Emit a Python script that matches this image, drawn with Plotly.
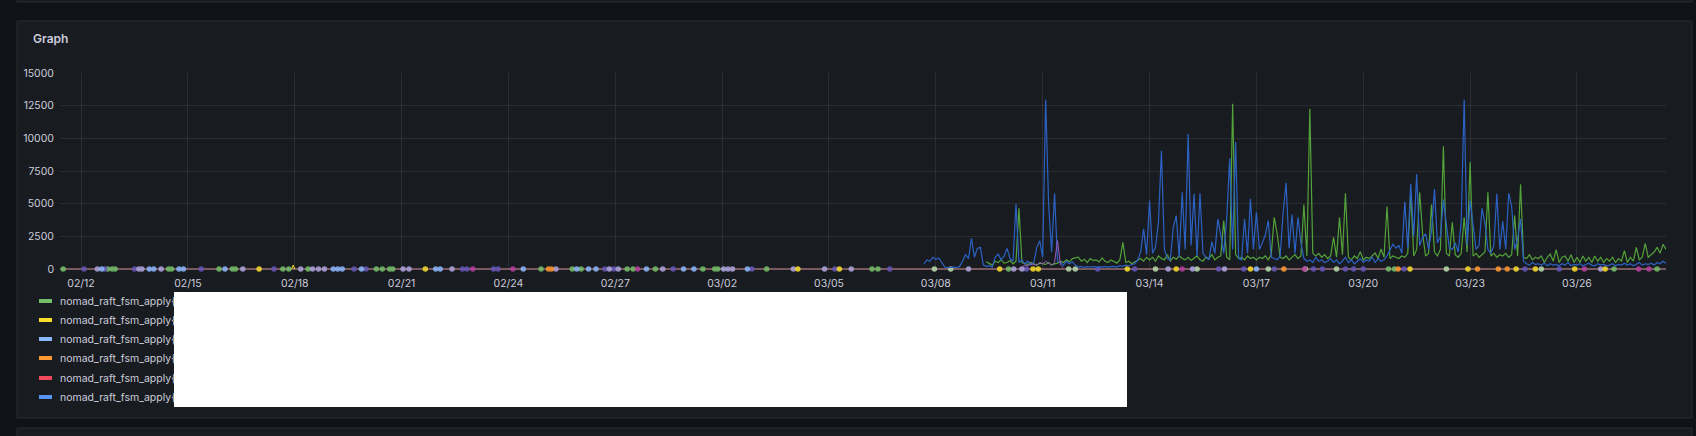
import pandas as pd
import plotly.graph_objects as go

# ---------------- data ----------------
X_START = "2025-02-11 09:50"
X_END = "2025-03-28 12:00"
X_TICK0 = "2025-02-12"
Y_TICKS = [0, 2500, 5000, 7500, 10000, 12500, 15000]

SERIES_NAMES = [
    'nomad_raft_fsm_apply{host="nomad-server-1", type="Register"}',
    'nomad_raft_fsm_apply{host="nomad-server-1", type="Deregister"}',
    'nomad_raft_fsm_apply{host="nomad-server-2", type="Register"}',
    'nomad_raft_fsm_apply{host="nomad-server-2", type="Deregister"}',
    'nomad_raft_fsm_apply{host="nomad-server-3", type="Register"}',
    'nomad_raft_fsm_apply{host="nomad-server-3", type="Deregister"}',
]
SERIES_COLORS = ["#73BF69", "#FADE2A", "#8AB8FF", "#FF9830", "#F2495C", "#5794F2"]

# green series, 2-hour samples from 2025-03-09 10:00
green_start = "2025-03-09 10:00"
green_values = [
    560, 400, 300, 600, 500, 700, 450,                                   # 03/09 10h-22h
    500, 650, 400, 600, 4650, 500, 400, 350, 500, 400, 300, 450,         # 03/10
    400, 350, 500, 300, 400, 450, 600, 500, 700, 550, 800, 870,          # 03/11
    900, 600, 750, 500, 800, 650, 700, 550, 850, 600, 500, 700,          # 03/12
    600, 450, 700, 2040, 500, 600, 400, 550, 700, 800, 600, 900,         # 03/13
    700, 900, 600, 1000, 800, 700, 1100, 600, 900, 750, 1000, 800,       # 03/14
    700, 900, 650, 800, 1000, 700, 600, 900, 800, 1100, 700, 900,        # 03/15
    1000, 3700, 900, 700, 12650, 1100, 800, 900, 700, 1000, 800, 900,    # 03/16
    700, 900, 800, 1000, 700, 1100, 3960, 2700, 900, 800, 1000, 700,     # 03/17
    900, 1100, 800, 1000, 4930, 1000, 12260, 1200, 1000, 1200, 900, 1100,  # 03/18
    800, 1000, 2430, 900, 3960, 1100, 5800, 900, 700, 1000, 800, 1330,   # 03/19
    700, 900, 800, 1000, 1230, 800, 1530, 900, 4780, 800, 1000, 900,     # 03/20
    800, 1000, 900, 1200, 5880, 1000, 1500, 5880, 2700, 1000, 1200, 4930,  # 03/21
    1300, 1000, 1500, 9400, 1200, 1000, 3580, 1100, 900, 1200, 3960, 1300,  # 03/22
    8180, 1000, 1200, 900, 1100, 1300, 5880, 1000, 1200, 900, 1100, 1000,  # 03/23
    1200, 900, 1100, 4090, 1000, 6490, 900, 800, 1100, 700, 900, 800,    # 03/24
    1000, 500, 900, 1150, 600, 1480, 500, 900, 1000, 600, 1100, 500,     # 03/25
    900, 500, 1000, 600, 900, 500, 1000, 600, 900, 500, 800, 600,        # 03/26
    900, 500, 800, 600, 1400, 500, 900, 600, 1660, 700, 900, 1970,       # 03/27
    900, 1100, 1300, 1660, 1200, 1890, 1500,                             # 03/28 0h-12h
]

# blue series, 2-hour samples from 2025-03-07 16:00
blue_start = "2025-03-07 16:00"
blue_values = [
    400, 700, 600, 900,                                                  # 03/07 16h-22h
    750, 850, 500, 150, 100, 120, 150, 100, 200, 600, 1100, 800,         # 03/08
    2350, 900, 1580, 1660, 300, 200, 250, 150, 900, 1150, 700, 1000,     # 03/09
    1580, 800, 600, 4980, 500, 700, 400, 600, 300, 500, 1660, 2170,      # 03/10
    900, 12980, 4950, 1300, 5800, 600, 500, 300, 600, 400, 550, 300,     # 03/11
    150, 200, 120, 180, 150, 200, 130, 170, 150, 200, 150, 180,          # 03/12
    200, 150, 250, 200, 300, 250, 350, 400, 700, 1300, 3070, 1100,       # 03/13
    5240, 1200, 1660, 3580, 9045, 1500, 800, 700, 3190, 4090, 900, 5880,  # 03/14
    1500, 10350, 1800, 5750, 1000, 5800, 1200, 900, 700, 2100, 1200, 3830,  # 03/15
    2600, 1200, 3830, 8480, 1500, 9710, 800, 700, 3830, 1200, 5370, 1500,  # 03/16
    4340, 1500, 2000, 2600, 3700, 900, 800, 700, 1000, 4290, 6590, 1600,  # 03/17
    4160, 1200, 3960, 2000, 800, 600, 700, 500, 900, 600, 700, 500,      # 03/18
    600, 800, 500, 700, 400, 600, 900, 500, 700, 400, 600, 800,          # 03/19
    500, 700, 600, 900, 500, 800, 600, 700, 1000, 1500, 1900, 1600,      # 03/20
    1800, 1200, 5160, 1600, 6520, 2500, 7260, 1800, 2400, 2700, 1500, 2900,  # 03/21
    6130, 2000, 2500, 5310, 3450, 1600, 1500, 2000, 1300, 3580, 12950, 1800,  # 03/22
    5240, 3300, 1500, 1800, 4650, 3500, 1500, 1200, 1800, 5750, 1500, 3650,  # 03/23
    1500, 5800, 4800, 1500, 2300, 3830, 600, 400, 300, 500, 350, 400,    # 03/24
    300, 450, 250, 400, 300, 350, 250, 400, 300, 500, 250, 350,          # 03/25
    300, 400, 250, 350, 450, 300, 250, 400, 300, 350, 250, 300,          # 03/26
    400, 250, 350, 300, 450, 300, 400, 250, 350, 500, 300, 400,          # 03/27
    350, 450, 300, 500, 400, 600, 450,                                   # 03/28 0h-12h
]

# small purple series, 2-hour samples from 2025-03-10 10:00
purple_start = "2025-03-10 10:00"
purple_values = [150, 300, 250, 400, 350, 300, 500, 400, 600, 450, 300, 500, 2170, 300, 100]

# series sitting on the zero line
red_times = ["2025-02-11 09:50", "2025-03-28 12:00"]
red_values = [0, 0]
yellow_times = ["2025-02-17 22:00", "2025-02-17 23:00", "2025-02-18 00:00"]
yellow_values = [0, 300, 0]

# isolated samples (value 0) drawn as points
dots_green = ["2025-02-11 12:00", "2025-02-12 18:00", "2025-02-12 21:00", "2025-02-12 23:00",
              "2025-02-14 11:00", "2025-02-14 13:00", "2025-02-15 21:00", "2025-02-16 06:00",
              "2025-02-16 08:00", "2025-02-17 16:00", "2025-02-17 20:00", "2025-02-18 09:00",
              "2025-02-20 07:00", "2025-02-20 11:00", "2025-02-20 16:00", "2025-02-20 18:00",
              "2025-02-24 22:00", "2025-02-25 19:00", "2025-02-26 01:00", "2025-02-27 08:00",
              "2025-02-27 12:00", "2025-02-28 03:00", "2025-03-01 11:00", "2025-03-01 19:00",
              "2025-03-01 21:00", "2025-03-03 06:00", "2025-03-06 05:00", "2025-03-06 09:00",
              "2025-03-10 01:00", "2025-03-20 17:00", "2025-03-20 21:00", "2025-03-27 01:00",
              "2025-03-28 06:00"]
dots_lightgreen = ["2025-03-07 23:00", "2025-03-08 10:00", "2025-03-11 17:30", "2025-03-11 22:00",
                   "2025-03-14 04:00", "2025-03-15 08:00", "2025-03-17 08:00", "2025-03-18 09:00",
                   "2025-03-19 06:00", "2025-03-22 08:00", "2025-03-25 00:00"]
dots_violet = ["2025-02-12 02:00", "2025-02-12 16:00", "2025-02-13 12:00", "2025-02-15 09:00",
               "2025-02-17 10:00", "2025-02-19 16:00", "2025-02-20 00:00", "2025-02-22 17:00",
               "2025-02-22 20:00", "2025-02-23 14:00", "2025-02-23 17:00", "2025-02-26 17:00",
               "2025-02-26 23:00", "2025-02-28 15:00", "2025-03-02 20:00", "2025-03-05 04:00",
               "2025-03-06 17:00", "2025-03-10 13:00", "2025-03-12 13:00", "2025-03-13 14:00",
               "2025-03-15 22:30", "2025-03-16 15:30", "2025-03-17 12:00", "2025-03-18 14:30",
               "2025-03-18 20:30", "2025-03-19 12:00", "2025-03-19 17:30", "2025-03-20 00:00",
               "2025-03-21 03:30", "2025-03-24 13:00", "2025-03-25 12:00"]
dots_lavender = ["2025-02-12 11:00", "2025-02-13 15:00", "2025-02-13 17:00", "2025-02-14 06:00",
                 "2025-02-16 13:00", "2025-02-18 04:00", "2025-02-18 12:00", "2025-02-18 16:00",
                 "2025-02-18 20:00", "2025-02-21 01:00", "2025-02-21 05:00", "2025-02-22 10:00",
                 "2025-02-25 08:00", "2025-02-26 20:00", "2025-02-27 02:00", "2025-02-28 08:00",
                 "2025-03-02 01:00", "2025-03-02 04:00", "2025-03-02 07:00", "2025-03-04 00:00",
                 "2025-03-04 21:00", "2025-03-05 15:00", "2025-03-08 22:00", "2025-03-10 04:30",
                 "2025-03-10 10:00", "2025-03-14 12:30", "2025-03-15 05:00", "2025-03-16 02:30",
                 "2025-03-26 16:00"]
dots_lightblue = ["2025-02-12 14:00", "2025-02-13 22:00", "2025-02-14 01:00", "2025-02-14 18:00",
                  "2025-02-14 21:00", "2025-02-16 01:00", "2025-02-19 02:00", "2025-02-19 05:00",
                  "2025-02-19 08:00", "2025-02-19 21:00", "2025-02-21 23:00", "2025-02-22 02:00",
                  "2025-02-24 10:00", "2025-02-25 22:00", "2025-02-26 06:00", "2025-02-26 11:00",
                  "2025-02-27 21:00", "2025-02-28 22:00", "2025-03-01 05:00", "2025-03-02 17:00",
                  "2025-03-17 00:00"]
dots_yellow = ["2025-02-17 00:00", "2025-02-21 16:00", "2025-03-04 03:00", "2025-03-05 07:00",
               "2025-03-09 19:00", "2025-03-10 17:30", "2025-03-10 21:00", "2025-03-13 09:00",
               "2025-03-14 18:00", "2025-03-16 20:00", "2025-03-21 07:30", "2025-03-22 22:30",
               "2025-03-24 07:00", "2025-03-24 20:00", "2025-03-25 22:30", "2025-03-26 19:00"]
dots_orange = ["2025-02-25 03:00", "2025-02-25 05:00", "2025-03-17 18:30", "2025-03-20 23:30",
               "2025-03-23 05:00", "2025-03-23 19:00", "2025-03-24 01:00"]
dots_magenta = ["2025-02-23 00:00", "2025-02-24 03:00", "2025-02-27 15:00", "2025-03-14 22:00",
                "2025-03-18 08:30", "2025-03-26 05:00", "2025-03-27 17:30", "2025-03-28 00:30"]

# ---------------- styling ----------------
BG_OUTER = "#111217"
BG_PANEL = "#181b1f"
BORDER = "#2a2c31"
TEXT = "#ccccdc"
GRID = "rgba(204,204,220,0.10)"
FONT = "Inter"
LINE_GREEN = "#54a23a"
LINE_BLUE = "#2c62c4"

W, H = 1696, 436
ML, MR, MT, MB = 60, 30, 73, 166
PW, PH = W - ML - MR, H - MT - MB


def px(x):
    return (x - ML) / PW


def py(y):
    return (H - MB - y) / PH


def grid_times(start, n):
    return pd.date_range(start, periods=n, freq="2h")


fig = go.Figure()

dot_sets = [
    (dots_green, "#73BF69"), (dots_lightgreen, "#B7DBAB"), (dots_violet, "#6656B8"),
    (dots_lavender, "#ADA5E0"), (dots_lightblue, "#8AB8FF"), (dots_yellow, "#FADE2A"),
    (dots_orange, "#FF9830"), (dots_magenta, "#B83FA0"),
]

# baseline series on zero
fig.add_trace(go.Scatter(x=pd.to_datetime(red_times), y=red_values, mode="lines",
                         line=dict(color="#9a6f74", width=1.5),
                         name=SERIES_NAMES[4], showlegend=False, hoverinfo="skip"))

for times, col in dot_sets:
    fig.add_trace(go.Scatter(x=pd.to_datetime(times), y=[0 for _ in times], mode="markers",
                             marker=dict(size=5.5, color=col), opacity=0.85, cliponaxis=False,
                             showlegend=False, hoverinfo="skip"))

fig.add_trace(go.Scatter(x=grid_times(green_start, len(green_values)), y=green_values,
                         mode="lines", line=dict(color=LINE_GREEN, width=1.2),
                         name=SERIES_NAMES[0], showlegend=False))
fig.add_trace(go.Scatter(x=pd.to_datetime(yellow_times), y=yellow_values, mode="lines",
                         line=dict(color=SERIES_COLORS[1], width=1),
                         name=SERIES_NAMES[1], showlegend=False))
fig.add_trace(go.Scatter(x=grid_times(blue_start, len(blue_values)), y=blue_values,
                         mode="lines", line=dict(color=LINE_BLUE, width=1.2),
                         name=SERIES_NAMES[5], showlegend=False))
fig.add_trace(go.Scatter(x=grid_times(purple_start, len(purple_values)), y=purple_values,
                         mode="lines", line=dict(color="#9a5cc0", width=1),
                         showlegend=False))

shapes = []
annotations = []

# panels
shapes.append(dict(type="rect", xref="paper", yref="paper", layer="below",
                   x0=px(17), x1=px(1692), y0=py(418), y1=py(21),
                   fillcolor=BG_PANEL, line=dict(color=BORDER, width=1)))
shapes.append(dict(type="rect", xref="paper", yref="paper", layer="below",
                   x0=px(17), x1=px(1692), y0=py(2), y1=py(-20),
                   fillcolor=BG_PANEL, line=dict(color=BORDER, width=1)))
shapes.append(dict(type="rect", xref="paper", yref="paper", layer="below",
                   x0=px(17), x1=px(1692), y0=py(470), y1=py(428),
                   fillcolor=BG_PANEL, line=dict(color=BORDER, width=1)))

# title
annotations.append(dict(text="Graph", xref="paper", yref="paper", x=px(31), y=py(38),
                        xanchor="left", yanchor="middle", showarrow=False,
                        font=dict(family=FONT, size=12, color=TEXT, weight=600)))

# legend (manual)
legend_y = [301, 320, 339, 358, 378, 397]
for name, col, ly in zip(SERIES_NAMES, SERIES_COLORS, legend_y):
    shapes.append(dict(type="line", xref="paper", yref="paper", x0=px(39), x1=px(52),
                       y0=py(ly), y1=py(ly), line=dict(color=col, width=4)))
    annotations.append(dict(text=name, xref="paper", yref="paper", x=px(58), y=py(ly),
                            xanchor="left", yanchor="middle", showarrow=False,
                            font=dict(family=FONT, size=10.5, color=TEXT)))

# redaction box over legend labels
annotations.append(dict(text=" ", xref="paper", yref="paper",
                        x=px((174 + 1127) / 2), y=py((292 + 407) / 2),
                        xanchor="center", yanchor="middle", showarrow=False,
                        width=1127 - 174, height=407 - 292, bgcolor="#ffffff",
                        borderpad=0, borderwidth=0))

fig.update_layout(
    width=W, height=H,
    margin=dict(l=ML, r=MR, t=MT, b=MB),
    paper_bgcolor=BG_OUTER, plot_bgcolor=BG_PANEL,
    font=dict(family=FONT, size=10.5, color=TEXT),
    showlegend=False,
    shapes=shapes, annotations=annotations,
    xaxis=dict(type="date", range=[X_START, X_END], tick0=X_TICK0, dtick=3 * 86400000,
               tickformat="%m/%d", showgrid=True, gridcolor=GRID, gridwidth=1,
               zeroline=False, showline=False, ticks="", ticklabelstandoff=5,
               tickfont=dict(family=FONT, size=10.5, color=TEXT)),
    yaxis=dict(range=[-75, 15000], tickvals=Y_TICKS, tickformat="d",
               showgrid=True, gridcolor=GRID, gridwidth=1, zeroline=False,
               showline=False, ticks="", ticklabelstandoff=5,
               tickfont=dict(family=FONT, size=10.5, color=TEXT)),
)

fig.write_html("out.html", config={"displayModeBar": False},
               post_script="document.body.style.margin='0';")
